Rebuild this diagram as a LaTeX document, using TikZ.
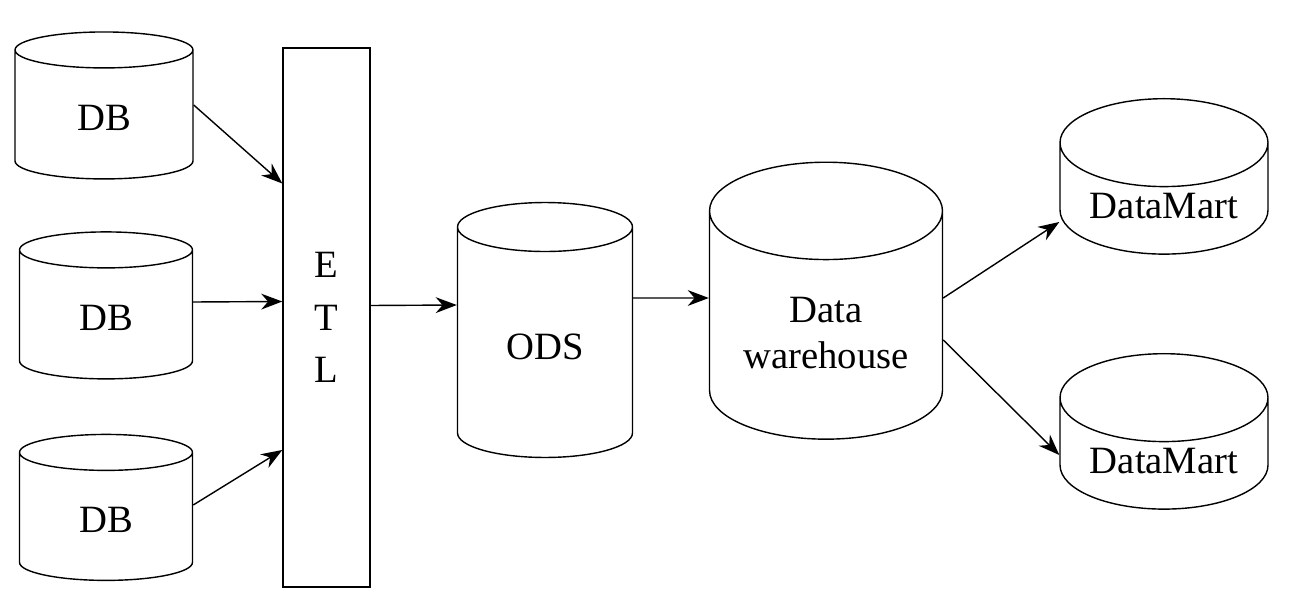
\documentclass[tikz,border=0pt]{standalone}
\usepackage{fontspec}
\setmainfont{Liberation Serif}
\usetikzlibrary{shapes.geometric,arrows.meta}
\tikzset{
  db/.style={draw, thick, cylinder, shape border rotate=90, aspect=0.55, fill=white,
    font=\fontsize{22}{26}\selectfont, align=center},
  flow/.style={thick, -{Stealth[length=12pt,width=9pt]}}
}
\begin{document}
\begin{tikzpicture}[x=0.02cm,y=-0.02cm]
  \useasboundingbox (0,0) rectangle (1290,614);
  \node[db, minimum width=3.56cm, minimum height=2.94cm] (db1) at (104,118) {DB};
  \node[db, minimum width=3.46cm, minimum height=2.94cm] (db2) at (106,318) {DB};
  \node[db, minimum width=3.46cm, minimum height=2.92cm] (db3) at (106,520) {DB};
  \node[draw, thick, minimum width=1.74cm, minimum height=10.78cm, align=center,
    font=\fontsize{22}{30}\selectfont] (etl) at (326.5,317.5) {E\\T\\L};
  \node[db, minimum width=3.5cm, minimum height=5.1cm] (ods) at (545,347) {ODS};
  \node[db, minimum width=4.66cm, minimum height=5.54cm] (dw) at (826,333) {Data\\warehouse};
  \node[db, minimum width=4.16cm, minimum height=2.84cm] (dm1) at (1164,206) {DataMart};
  \node[db, minimum width=4.16cm, minimum height=2.76cm] (dm2) at (1164,461) {DataMart};
  % connectors
  \draw[flow] ([yshift=0.26cm]db1.east) -- ([yshift=2.68cm]etl.west);
  \draw[flow] ([yshift=0.32cm]db2.east) -- ([yshift=0.32cm]etl.west);
  \draw[flow] ([yshift=0.3cm]db3.east) -- ([yshift=-2.65cm]etl.west);
  \draw[flow] ([yshift=0.24cm]etl.east) -- ([yshift=0.84cm]ods.west);
  \draw[flow] ([yshift=0.98cm]ods.east) -- ([yshift=0.7cm]dw.west);
  \draw[flow] ([yshift=0.7cm]dw.east) -- ([yshift=-0.32cm]dm1.west);
  \draw[flow] ([yshift=-0.14cm]dw.east) -- ([yshift=0.12cm]dm2.west);
\end{tikzpicture}
\end{document}
